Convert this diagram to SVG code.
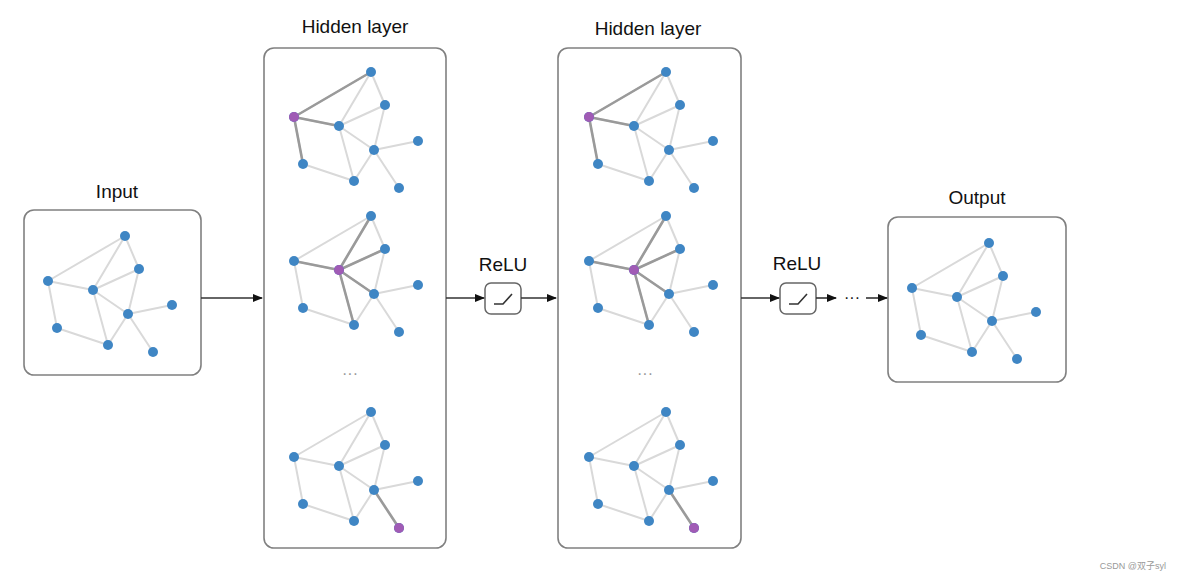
<svg xmlns="http://www.w3.org/2000/svg" xmlns:xlink="http://www.w3.org/1999/xlink" width="1182" height="581" viewBox="0 0 1182 581">
<style>
.box{fill:#fff;stroke:#808080;stroke-width:1.6}
.e{stroke:#d9d9d9;stroke-width:2;fill:none}
.h{stroke:#9a9a9a;stroke-width:2.6;fill:none}
.n{fill:#3f86c4}
.p{fill:#a05bb5}
.t{font-family:"Liberation Sans",Arial,sans-serif;font-size:19px;fill:#111;text-anchor:middle}
.ln{stroke:#333;stroke-width:1.6;fill:none}
.dots{font-family:"Liberation Sans",Arial,sans-serif;font-size:16px;fill:#999;text-anchor:middle}
</style>
<defs>
<marker id="ah" markerWidth="10" markerHeight="8" refX="9" refY="4" orient="auto" markerUnits="userSpaceOnUse"><path d="M0,0 L10,4 L0,8 z" fill="#111"/></marker>
<g id="edges">
<path class="e" d="M125,236L48,281M125,236L93,290M125,236L139,269M139,269L93,290M139,269L128,314M48,281L93,290M48,281L57,328M93,290L128,314M93,290L108,345M128,314L108,345M128,314L172,305M128,314L153,352M57,328L108,345"/>
</g>
<g id="nodes">
<circle class="n" cx="125" cy="236" r="5"/><circle class="n" cx="139" cy="269" r="5"/><circle class="n" cx="48" cy="281" r="5"/><circle class="n" cx="93" cy="290" r="5"/><circle class="n" cx="128" cy="314" r="5"/><circle class="n" cx="172" cy="305" r="5"/><circle class="n" cx="57" cy="328" r="5"/><circle class="n" cx="108" cy="345" r="5"/><circle class="n" cx="153" cy="352" r="5"/>
</g>
<g id="g1"><use xlink:href="#edges"/><path class="h" d="M48,281L125,236M48,281L93,290M48,281L57,328"/><use xlink:href="#nodes"/><circle class="p" cx="48" cy="281" r="5"/></g>
<g id="g2"><use xlink:href="#edges"/><path class="h" d="M93,290L125,236M93,290L139,269M93,290L48,281M93,290L128,314M93,290L108,345"/><use xlink:href="#nodes"/><circle class="p" cx="93" cy="290" r="5"/></g>
<g id="g3"><use xlink:href="#edges"/><path class="h" d="M128,314L153,352"/><use xlink:href="#nodes"/><circle class="p" cx="153" cy="352" r="5"/></g>
<g id="relu"><rect x="0" y="0" width="36" height="31" rx="6" fill="#fff" stroke="#666" stroke-width="1.5"/><path d="M9,21H18L27,11" stroke="#333" stroke-width="1.6" fill="none"/></g>
</defs>

<g id="input">
<rect class="box" x="24" y="210" width="177" height="165" rx="10"/>
<text class="t" x="117" y="198">Input</text>
<use xlink:href="#edges"/><use xlink:href="#nodes"/>
</g>

<g id="hidden1">
<rect class="box" x="264" y="48" width="182" height="500" rx="10"/>
<text class="t" x="355" y="33">Hidden layer</text>
<use xlink:href="#g1" transform="translate(246,-164)"/>
<use xlink:href="#g2" transform="translate(246,-20)"/>
<use xlink:href="#g3" transform="translate(246,176)"/>
<text class="dots" x="350" y="379">···</text>
</g>

<g id="hidden2">
<rect class="box" x="558" y="48" width="183" height="500" rx="10"/>
<text class="t" x="648" y="35">Hidden layer</text>
<use xlink:href="#g1" transform="translate(541,-164)"/>
<use xlink:href="#g2" transform="translate(541,-20)"/>
<use xlink:href="#g3" transform="translate(541,176)"/>
<text class="dots" x="645" y="379">···</text>
</g>

<g id="output">
<rect class="box" x="888" y="217" width="178" height="165" rx="10"/>
<text class="t" x="977" y="204">Output</text>
<use xlink:href="#edges" transform="translate(864,7)"/><use xlink:href="#nodes" transform="translate(864,7)"/>
</g>

<g id="relu1"><text class="t" x="503" y="271">ReLU</text><use xlink:href="#relu" transform="translate(485,283)"/></g>
<g id="relu2"><text class="t" x="797" y="270">ReLU</text><use xlink:href="#relu" transform="translate(780,283)"/></g>

<g id="connectors">
<line class="ln" x1="201" y1="298" x2="262" y2="298" marker-end="url(#ah)"/>
<line class="ln" x1="446" y1="298" x2="484" y2="298" marker-end="url(#ah)"/>
<line class="ln" x1="521" y1="298" x2="556" y2="298" marker-end="url(#ah)"/>
<line class="ln" x1="741" y1="298" x2="779" y2="298" marker-end="url(#ah)"/>
<line class="ln" x1="816" y1="298" x2="836" y2="298" marker-end="url(#ah)"/>
<text x="852" y="303" font-family="Liberation Sans,Arial,sans-serif" font-size="16" fill="#111" text-anchor="middle">···</text>
<line class="ln" x1="866" y1="298" x2="887" y2="298" marker-end="url(#ah)"/>
</g>

<text x="1166" y="569" font-family="Liberation Sans,'Noto Sans CJK SC',sans-serif" font-size="9" fill="#999" text-anchor="end">CSDN @双子syl</text>
</svg>
